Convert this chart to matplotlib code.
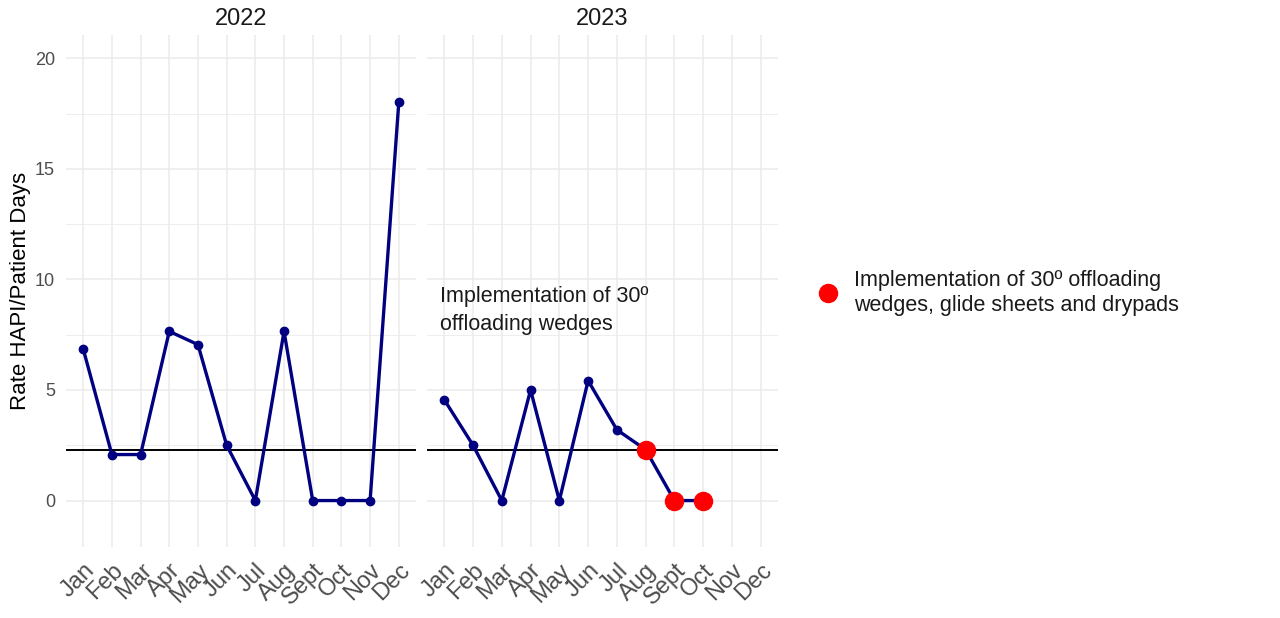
import matplotlib
matplotlib.use("Agg")
import matplotlib.pyplot as plt
from matplotlib.lines import Line2D
import numpy as np

plt.rcParams['font.family'] = ['Liberation Sans', 'DejaVu Sans']

months = ["Jan", "Feb", "Mar", "Apr", "May", "Jun", "Jul", "Aug", "Sept", "Oct", "Nov", "Dec"]
years = ["2022", "2023"]
rate_2022 = [6.85, 2.08, 2.08, 7.65, 7.05, 2.5, 0.0, 7.65, 0.0, 0.0, 0.0, 18.0]
rate_2023 = [4.56, 2.5, 0.0, 5.0, 0.0, 5.42, 3.2, 2.3, 0.0, 0.0, None, None]
highlight_months_2023 = ["Aug", "Sept", "Oct"]
median_line = 2.27
annotation_text = "Implementation of 30º\noffloading wedges"
legend_label = "Implementation of 30º offloading\nwedges, glide sheets and drypads"
y_ticks = [0, 5, 10, 15, 20]

fig = plt.figure(figsize=(12.8, 6.18), dpi=100)
W, H = 1280, 618
bottom = 1 - 547 / H
height = (547 - 35) / H
ax1 = fig.add_axes([66 / W, bottom, 350 / W, height])
ax2 = fig.add_axes([427 / W, bottom, 351 / W, height])

grid_col = "#EBEBEB"
x = np.arange(len(months))

for ax, yr, vals in [(ax1, "2022", rate_2022), (ax2, "2023", rate_2023)]:
    ax.set_xlim(-0.6, 11.6)
    ax.set_ylim(-2.1, 21.05)
    for s in ax.spines.values():
        s.set_visible(False)
    ax.set_xticks(x)
    ax.set_xticks([], minor=True)
    ax.set_yticks(y_ticks)
    ax.set_yticks([2.5, 7.5, 12.5, 17.5], minor=True)
    ax.grid(True, which='major', color=grid_col, linewidth=1.1, zorder=0)
    ax.grid(True, which='minor', axis='y', color=grid_col, linewidth=0.6, zorder=0)
    ax.tick_params(which='both', length=0)
    ax.set_xticklabels(months, rotation=45, ha='right', va='top', rotation_mode='anchor',
                       fontsize=17, color="#4D4D4D")
    ax.tick_params(axis='x', pad=9)
    ax.set_title(yr, fontsize=17, color="#1A1A1A", pad=7)
    xs = [i for i, v in enumerate(vals) if v is not None]
    ys = [v for v in vals if v is not None]
    ax.axhline(median_line, color="black", linewidth=1.4, zorder=2)
    ax.plot(xs, ys, color="#000080", linewidth=2.4, marker='o', markersize=6, zorder=3)
    ax.set_axisbelow(True)

ax1.set_yticklabels([str(t) for t in y_ticks], fontsize=13, color="#4D4D4D")
ax1.tick_params(axis='y', pad=8)
ax2.set_yticklabels([])
ax1.set_ylabel("Rate HAPI/Patient Days", fontsize=16, color="black", labelpad=3)

hx = [months.index(m) for m in highlight_months_2023]
hy = [rate_2023[i] for i in hx]
ax2.plot(hx, hy, linestyle='none', marker='o', markersize=13, color="#FF0000", zorder=4)

ax2.text(-0.15, 8.6, annotation_text, fontsize=15.5, color="#1A1A1A", ha='left', va='center',
         linespacing=1.4)

handle = Line2D([], [], linestyle='none', marker='o', markersize=13, color="#FF0000")
fig.legend([handle], [legend_label], loc='center left', bbox_to_anchor=(792 / W, 1 - 293 / H),
           frameon=False, fontsize=15.5, handletextpad=0.5, handlelength=1.5,
           labelcolor="#1A1A1A", labelspacing=0.3)

fig.savefig("out.png", dpi=100, facecolor="white")
